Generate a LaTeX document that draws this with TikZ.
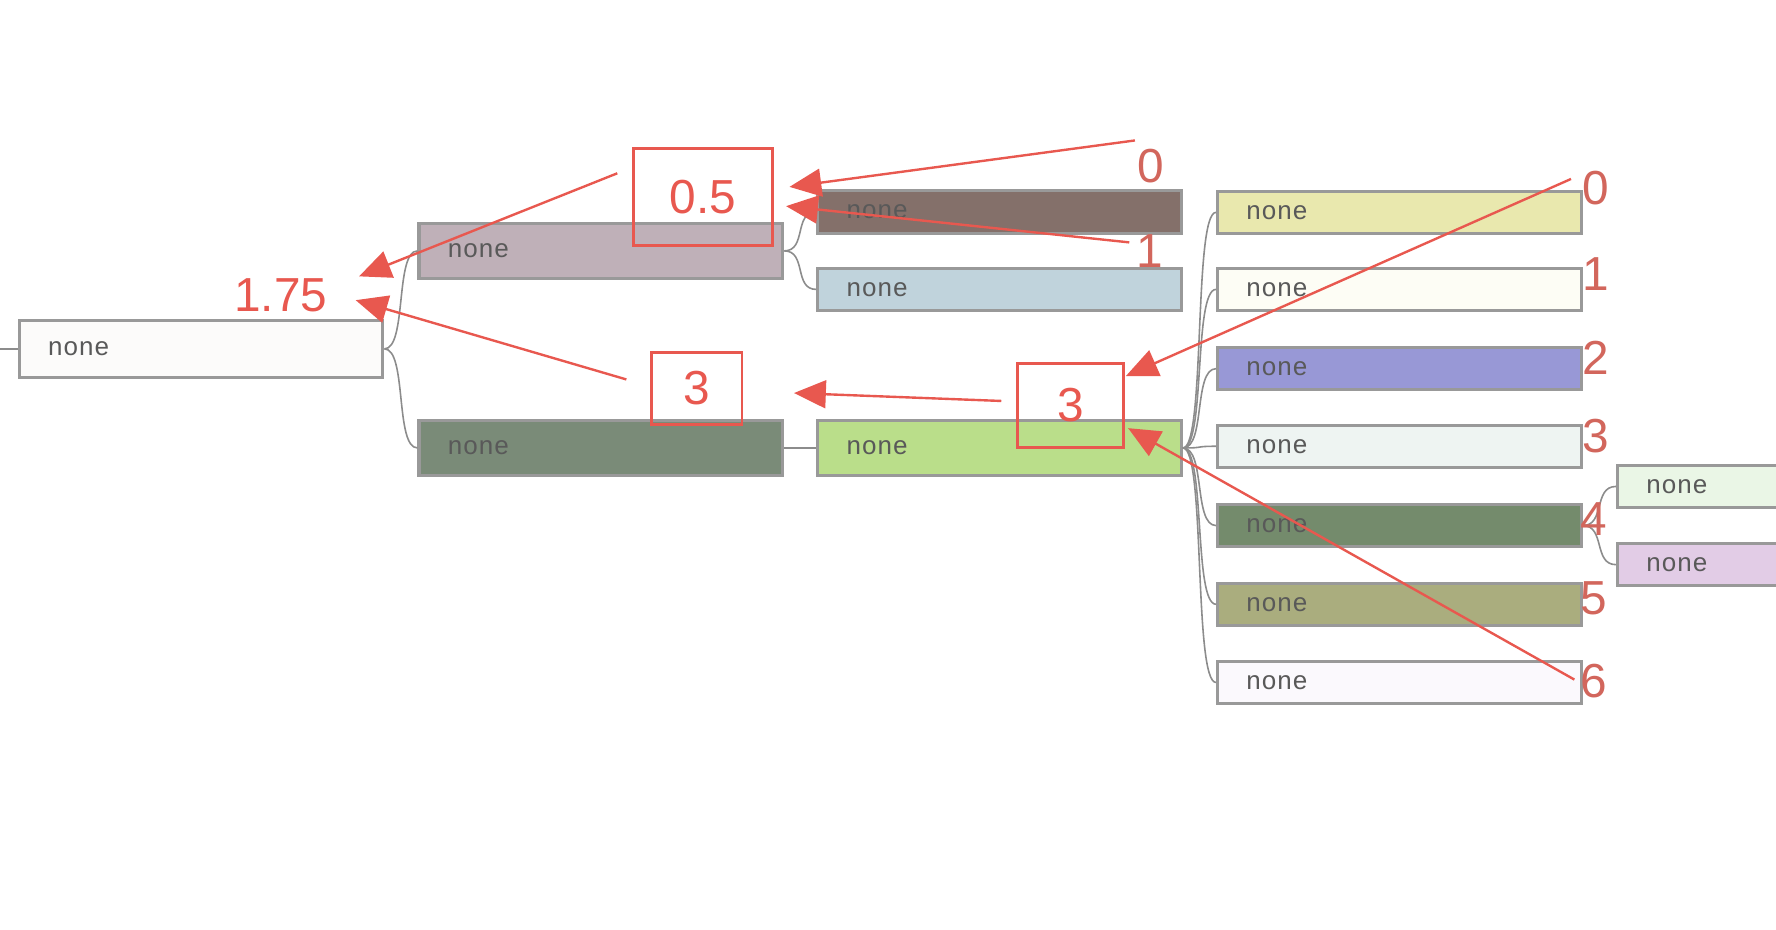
\documentclass[tikz,border=0pt]{standalone}
\usepackage{fontspec}
\setmainfont{Liberation Sans}
\setmonofont{Liberation Mono}
\usetikzlibrary{arrows.meta}
\definecolor{ann}{HTML}{E8584F}
\definecolor{lab}{HTML}{D2665C}
\begin{document}
\begin{tikzpicture}[x=0.02cm,y=-0.02cm,
  box/.style={draw=black!40, line width=1.6pt, rectangle, inner xsep=0pt, inner ysep=0pt,
     font=\ttfamily\fontsize{13}{13}\selectfont, text=black!65, align=left},
  conn/.style={draw=black!45, line width=0.8pt},
  ann/.style={draw=ann, line width=1.2pt, -{Triangle[length=16pt,width=14pt]}},
  abox/.style={draw=ann, line width=1.4pt, rectangle, inner sep=0pt, text=ann, font=\fontsize{24}{24}\selectfont},
  lab/.style={text=lab, font=\fontsize{24}{24}\selectfont, inner sep=0pt}]
\useasboundingbox (0,0) rectangle (1568,821);
\clip (0,0) rectangle (1568,821);
\newcommand{\bx}[6]{\definecolor{col#1}{HTML}{#6}\node[box, fill=col#1, minimum width=#4*0.02cm, minimum height=#5*0.02cm, text width=#4*0.02cm] (#1) at (#2,#3) {\hspace*{0.5cm}none};}
\bx{root}{177.5}{308}{321}{50}{FCFBFA}
\bx{t1}{530.5}{221.5}{321}{49}{BFB0B8}
\bx{b1}{530.5}{395.5}{321}{49}{7A8B78}
\bx{a1}{882.5}{187}{321}{38}{84706A}
\bx{a2}{882.5}{255.5}{321}{37}{C0D3DC}
\bx{a3}{882.5}{395.5}{321}{49}{BADE8A}
\bx{c0}{1235.5}{187.5}{321}{37}{E9E8AE}
\bx{c1}{1235.5}{255.5}{321}{37}{FDFDF5}
\bx{c2}{1235.5}{325.5}{321}{37}{9898D6}
\bx{c3}{1235.5}{394}{321}{37}{EEF4F2}
\bx{c4}{1235.5}{464}{321}{37}{748B6C}
\bx{c5}{1235.5}{533.5}{321}{37}{AAAD7E}
\bx{c6}{1235.5}{602.5}{321}{37}{FBF9FD}
\bx{d0}{1510}{429.5}{164}{37}{EAF6E6}
\bx{d1}{1510}{498.5}{164}{37}{E2CCE6}
\coordinate (in) at (0,308);
\draw[conn] (in) -- (root.west);
\foreach \p/\c in {root/t1,root/b1,t1/a1,t1/a2,b1/a3,a3/c0,a3/c1,a3/c2,a3/c3,a3/c4,a3/c5,a3/c6,c4/d0,c4/d1}
  \draw[conn] (\p.east) .. controls +(20,0) and +(-20,0) .. (\c.west);
% annotations
\node[abox, minimum width=123*0.02cm, minimum height=86*0.02cm] (h05) at (620.5,174) {0.5};
\node[abox, minimum width=80*0.02cm, minimum height=64*0.02cm] (h3a) at (615,343) {3};
\node[abox, minimum width=94*0.02cm, minimum height=74*0.02cm] (h3b) at (945,358) {3};
\node[lab, text=ann] (r175) at (248,261) {1.75};
\node[lab] (l0) at (1016,147) {0};
\node[lab] (l1) at (1015,222) {1};
\node[lab] (m0) at (1409,166) {0};
\node[lab] (m1) at (1409,242) {1};
\node[lab] (m2) at (1409,316) {2};
\node[lab] (m3) at (1409,385) {3};
\node[lab] (m4) at (1407,458) {4};
\node[lab] (m5) at (1407,528) {5};
\node[lab] (m6) at (1407,601) {6};
\coordinate (s1) at (1002,124); \coordinate (e1) at (697,165);
\coordinate (s2) at (997,214); \coordinate (e2) at (694,182);
\coordinate (s3) at (545,153); \coordinate (e3) at (317,244);
\coordinate (s4) at (553,335); \coordinate (e4) at (314,265);
\coordinate (s5) at (884,354); \coordinate (e5) at (701,347);
\coordinate (s6) at (1387,158); \coordinate (e6) at (994,332);
\coordinate (s7) at (1390,600); \coordinate (e7) at (996,378);
\foreach \i in {1,...,7} \draw[ann] (s\i) -- (e\i);
\end{tikzpicture}
\end{document}
